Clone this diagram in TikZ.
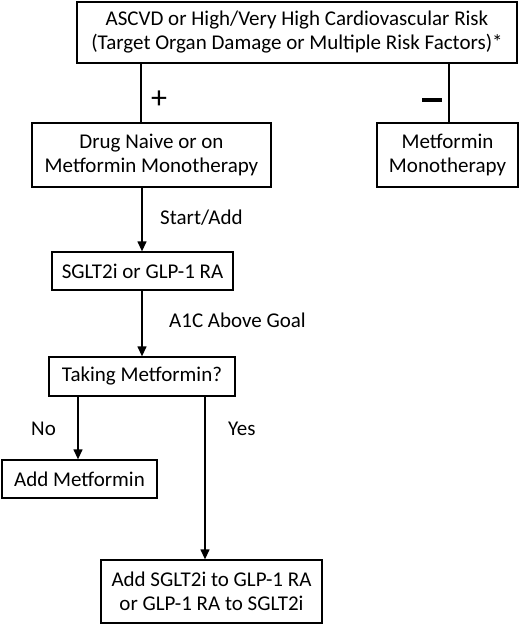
\documentclass[tikz,border=0pt]{standalone}
\usepackage{fontspec}
\setmainfont{Carlito}
\usetikzlibrary{arrows.meta}
\begin{document}
\begin{tikzpicture}[x=1pt,y=-1pt,
  box/.style={draw,line width=1.3pt,inner sep=0pt,align=center,font=\fontsize{21}{24}\selectfont},
  lbl/.style={inner sep=0pt,font=\fontsize{21}{24}\selectfont},
  conn/.style={line width=1.3pt},
  arr/.style={line width=1.3pt,-{Triangle[width=9pt,length=10pt]}}]
\useasboundingbox (0,0) rectangle (520,625);
\node[box,minimum width=440pt,minimum height=61pt] (top) at (297,32.5)
  {ASCVD or High/Very High Cardiovascular Risk\\(Target Organ Damage or Multiple Risk Factors)*};
\node[box,minimum width=239pt,minimum height=64pt] (drug) at (151.5,155)
  {Drug Naive or on\\Metformin Monotherapy};
\node[box,minimum width=141pt,minimum height=64pt] (mono) at (447.5,155)
  {Metformin\\Monotherapy};
\node[box,minimum width=181pt,minimum height=38pt] (sglt) at (142.5,271)
  {SGLT2i or GLP-1 RA};
\node[box,minimum width=186pt,minimum height=39pt] (taking) at (142,376.5)
  {Taking Metformin?};
\node[box,minimum width=155pt,minimum height=38pt] (addm) at (79.5,479)
  {Add Metformin};
\node[box,minimum width=221pt,minimum height=63pt] (final) at (211.5,591.5)
  {Add SGLT2i to GLP-1 RA\\or GLP-1 RA to SGLT2i};
\coordinate (xa) at (141,0);
\coordinate (xb) at (449,0);
\coordinate (xc) at (142,0);
\coordinate (xd) at (78,0);
\coordinate (xe) at (205,0);
\draw[conn] (top.south -| xa) -- (drug.north -| xa);
\draw[conn] (top.south -| xb) -- (mono.north -| xb);
\draw[arr] (drug.south -| xc) -- (sglt.north -| xc);
\draw[arr] (sglt.south -| xc) -- (taking.north -| xc);
\draw[arr] (taking.south -| xd) -- (addm.north -| xd);
\draw[arr] (taking.south -| xe) -- (final.north -| xe);
\node[lbl,font=\fontsize{32}{32}\selectfont] (plus) at (159,100) {+};
\node[lbl] (minus) at (432,100) {\rule{20pt}{3.5pt}};
\node[lbl,anchor=west] (start) at (160,218) {Start/Add};
\node[lbl,anchor=west] (a1c) at (169,320) {A1C Above Goal};
\node[lbl,anchor=west] (no) at (31,429) {No};
\node[lbl,anchor=west] (yes) at (228,429) {Yes};
\end{tikzpicture}
\end{document}
